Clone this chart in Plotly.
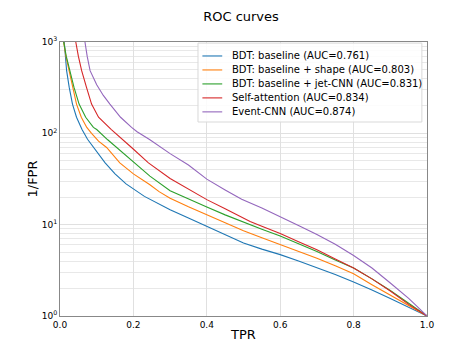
import plotly.graph_objects as go

names = ["BDT: baseline (AUC=0.761)", "BDT: baseline + shape (AUC=0.803)",
         "BDT: baseline + jet-CNN (AUC=0.831)", "Self-attention (AUC=0.834)",
         "Event-CNN (AUC=0.874)"]
colors = ["#1f77b4", "#ff7f0e", "#2ca02c", "#d62728", "#9467bd"]

tpr_bdt = [0.008, 0.011, 0.014, 0.018, 0.025, 0.034, 0.045, 0.06, 0.075, 0.091, 0.107, 0.123, 0.15, 0.18, 0.23, 0.30, 0.35, 0.40, 0.45, 0.5, 0.55, 0.6, 0.65, 0.7, 0.75, 0.8, 0.85, 0.9, 0.95, 0.975, 1.0]
inv_bdt = [1500, 1000, 700, 485, 320, 209, 150, 110, 86, 70, 57, 47.5, 36, 28, 20.4, 14.6, 11.8, 9.6, 7.8, 6.3, 5.4, 4.7, 4.0, 3.4, 2.85, 2.35, 1.93, 1.55, 1.25, 1.12, 1.0]

tpr_shape = [0.007, 0.01, 0.016, 0.025, 0.034, 0.045, 0.058, 0.073, 0.086, 0.105, 0.127, 0.145, 0.163, 0.2, 0.245, 0.27, 0.3, 0.35, 0.4, 0.45, 0.5, 0.55, 0.6, 0.65, 0.7, 0.75, 0.8, 0.85, 0.9, 0.95, 0.975, 1.0]
inv_shape = [1500, 1000, 700, 485, 320, 209, 150, 116, 100, 82, 70, 57, 47.5, 36, 27.4, 23, 19.5, 15.7, 12.8, 10.5, 8.6, 7.2, 6.1, 5.1, 4.3, 3.55, 2.9, 2.2, 1.68, 1.3, 1.14, 1.0]

tpr_jet = [0.007, 0.01, 0.017, 0.027, 0.038, 0.052, 0.07, 0.091, 0.10, 0.13, 0.154, 0.19, 0.245, 0.3, 0.35, 0.4, 0.45, 0.518, 0.55, 0.6, 0.65, 0.7, 0.75, 0.8, 0.85, 0.9, 0.95, 0.975, 1.0]
inv_jet = [1500, 1000, 700, 485, 320, 209, 150, 116, 110, 85, 70, 52, 34, 23.5, 19, 15.6, 12.8, 9.9, 8.9, 7.5, 6.2, 5.1, 4.1, 3.35, 2.55, 1.9, 1.38, 1.17, 1.0]

tpr_att = [0.038, 0.043, 0.05, 0.059, 0.072, 0.086, 0.105, 0.14, 0.195, 0.241, 0.3, 0.35, 0.386, 0.40, 0.45, 0.518, 0.55, 0.6, 0.65, 0.7, 0.75, 0.8, 0.85, 0.9, 0.95, 0.975, 1.0]
inv_att = [1500, 1000, 700, 485, 320, 209, 150, 110, 70, 47.5, 32, 24.5, 20.4, 18.8, 14.9, 10.8, 9.6, 8.0, 6.5, 5.3, 4.2, 3.35, 2.55, 1.88, 1.34, 1.16, 1.0]

tpr_evt = [0.064, 0.068, 0.074, 0.082, 0.1, 0.118, 0.136, 0.165, 0.195, 0.21, 0.245, 0.263, 0.3, 0.35, 0.4, 0.45, 0.495, 0.55, 0.6, 0.654, 0.7, 0.75, 0.8, 0.85, 0.9, 0.95, 0.975, 1.0]
inv_evt = [1500, 1000, 700, 485, 340, 260, 209, 150, 116, 104, 85, 76, 60, 45, 31.5, 24, 19, 15.2, 12.3, 9.6, 7.8, 6.1, 4.6, 3.35, 2.3, 1.56, 1.25, 1.0]

xs = [tpr_bdt, tpr_shape, tpr_jet, tpr_att, tpr_evt]
ys = [inv_bdt, inv_shape, inv_jet, inv_att, inv_evt]

x_ticks = [0.0, 0.2, 0.4, 0.6, 0.8, 1.0]
x_labels = ["0.0", "0.2", "0.4", "0.6", "0.8", "1.0"]
y_ticks = [1, 10, 100, 1000]
y_labels = ["10<sup>0</sup>", "10<sup>1</sup>", "10<sup>2</sup>", "10<sup>3</sup>"]
y_minor = [m * 10 ** d for d in range(3) for m in range(2, 10)]

font = "DejaVu Sans, sans-serif"

fig = go.Figure()
for n, c, x, y in zip(names, colors, xs, ys):
    fig.add_trace(go.Scatter(x=x, y=y, mode="lines", name=n,
                             line=dict(color=c, width=1.1)))

# Legend drawn in paper coordinates (matplotlib-style compact legend box)
shapes = [dict(type="rect", xref="paper", yref="paper", x0=0.376, x1=0.986, y0=0.708, y1=0.996,
               line=dict(color="#d9d9d9", width=1), fillcolor="rgba(255,255,255,0.85)", layer="above")]
annotations = []
row_y = [0.949, 0.898, 0.847, 0.796, 0.745]
for n, c, ry in zip(names, colors, row_y):
    shapes.append(dict(type="line", xref="paper", yref="paper", x0=0.388, x1=0.442, y0=ry, y1=ry,
                       line=dict(color=c, width=1.1), layer="above"))
    annotations.append(dict(text=n, xref="paper", yref="paper", x=0.463, y=ry, xanchor="left",
                            yanchor="middle", showarrow=False,
                            font=dict(size=10, family=font, color="black")))

fig.update_layout(
    width=466, height=347,
    margin=dict(l=52, r=47, t=34, b=39),
    paper_bgcolor="white", plot_bgcolor="white",
    font=dict(family=font, color="black", size=9),
    title=dict(text="ROC curves", x=0.5, xanchor="center", y=0.975, yanchor="middle",
               font=dict(size=13, family=font)),
    showlegend=False,
    shapes=shapes,
    annotations=annotations,
)
fig.update_xaxes(range=[0, 1], tickvals=x_ticks, ticktext=x_labels, automargin=False,
                 showgrid=True, gridcolor="#e0e0e0", gridwidth=1,
                 showline=True, linecolor="#888888", mirror=True, linewidth=1,
                 ticks="", zeroline=False,
                 title=dict(text="TPR", font=dict(size=13, family=font), standoff=1))
fig.update_yaxes(type="log", range=[0, 3], tickvals=y_ticks, ticktext=y_labels, automargin=False,
                 showgrid=True, gridcolor="#e0e0e0", gridwidth=1,
                 minor=dict(tickvals=y_minor, showgrid=True, gridcolor="#e8e8e8", ticks=""),
                 showline=True, linecolor="#888888", mirror=True, linewidth=1,
                 ticks="", zeroline=False,
                 title=dict(text="1/FPR", font=dict(size=13, family=font), standoff=1))

fig.write_html("out.html")
